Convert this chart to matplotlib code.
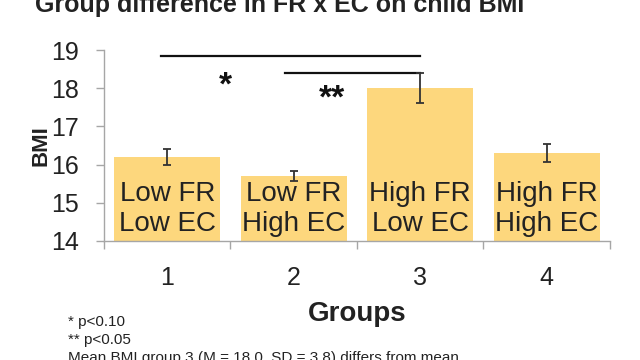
import matplotlib.pyplot as plt
import numpy as np

plt.rcParams['font.family'] = ['Liberation Sans', 'DejaVu Sans']

groups = [1, 2, 3, 4]
bmi_means = [16.2, 15.7, 18.0, 16.3]
bmi_err = [0.21, 0.14, 0.40, 0.24]
bar_labels = ['Low FR\nLow EC', 'Low FR\nHigh EC', 'High FR\nLow EC', 'High FR\nHigh EC']
notes = ['* p<0.10', '** p<0.05', 'Mean BMI group 3 (M = 18.0, SD = 3.8) differs from mean']

bar_color = '#FDD77D'
axis_color = '#A6A6A6'
text_color = '#222222'

fig = plt.figure(figsize=(6.4, 3.6), dpi=100)
ax = fig.add_axes([0.1625, 0.3306, 0.7906, 0.5305])

x = np.array(groups)
ax.bar(x, bmi_means, width=0.84, color=bar_color, zorder=1)
ax.errorbar(x, bmi_means, yerr=bmi_err, fmt='none', ecolor='#333333',
            elinewidth=1.3, capsize=3, capthick=1.3, zorder=3)

for xi, lab in zip(x, bar_labels):
    ax.text(xi, 14.1, lab, ha='center', va='bottom', fontsize=20,
            color=text_color, linespacing=1.2, zorder=2)

# significance brackets
ax.plot([x[0] - 0.05, x[2]], [18.84, 18.84], color='#111111', lw=1.6, clip_on=False)
ax.plot([x[1] - 0.07, x[2]], [18.40, 18.40], color='#111111', lw=1.6, clip_on=False)
ax.text(1.46, 18.05, '*', ha='center', va='center', fontsize=24,
        fontweight='bold', color='#111111')
ax.text(2.30, 17.72, '**', ha='center', va='center', fontsize=24,
        fontweight='bold', color='#111111')

ax.set_xlim(0.5, 4.5)
ax.set_ylim(14, 19)
ax.set_yticks([14, 15, 16, 17, 18, 19])
ax.set_xticks(groups)
ax.set_xticks([0.5, 1.5, 2.5, 3.5, 4.5], minor=True)
ax.tick_params(axis='y', direction='out', length=6, width=1, color=axis_color,
               labelsize=18, labelcolor=text_color, pad=12)
ax.tick_params(axis='x', which='major', length=0, labelsize=18,
               labelcolor=text_color, pad=18)
ax.tick_params(axis='x', which='minor', direction='out', length=6, width=1,
               color=axis_color)

for side in ['top', 'right']:
    ax.spines[side].set_visible(False)
for side in ['left', 'bottom']:
    ax.spines[side].set_color(axis_color)
    ax.spines[side].set_linewidth(1)

ax.set_ylabel('BMI', fontsize=16, fontweight='bold', color=text_color, labelpad=0)
ax.set_xlabel('Groups', fontsize=20, fontweight='bold', color=text_color, labelpad=8)

fig.text(0.055, 0.985, 'Group difference in FR x EC on child BMI', fontsize=18,
         fontweight='bold', color=text_color, ha='left', va='center')

for i, note in enumerate(notes):
    fig.text(0.106, 0.105 - i * 0.05, note, fontsize=11, color=text_color,
             ha='left', va='center')

fig.savefig('out.png', dpi=100)
